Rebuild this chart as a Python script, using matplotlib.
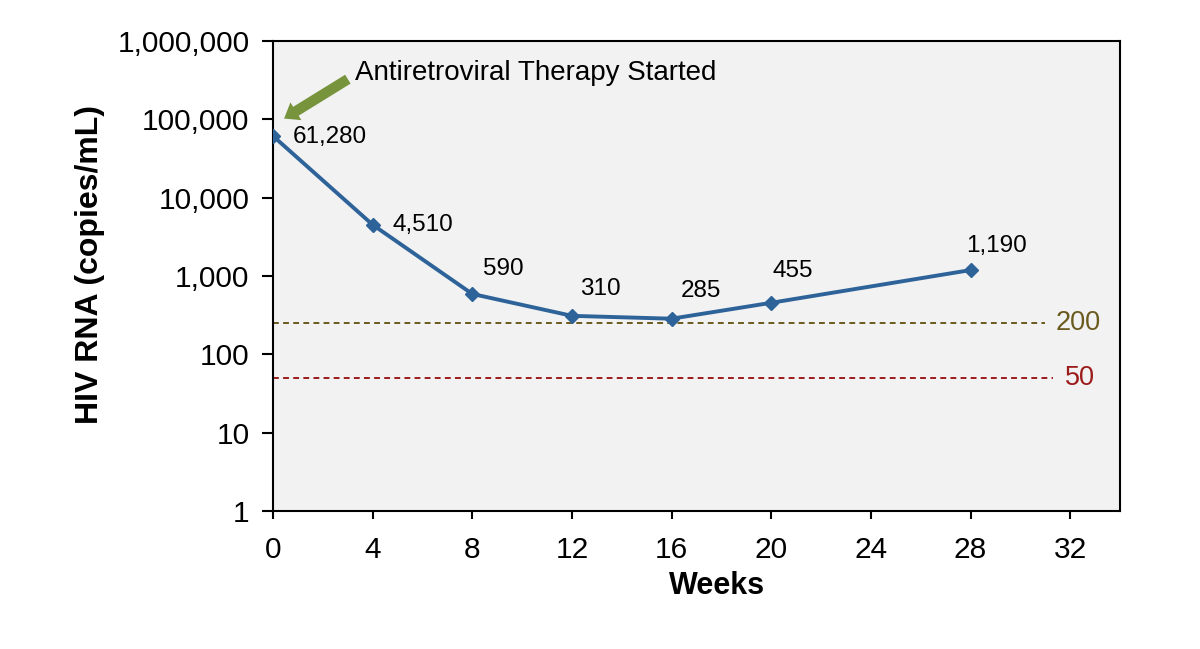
import matplotlib
matplotlib.use("Agg")
import matplotlib.pyplot as plt
from matplotlib.ticker import FixedLocator, NullLocator

# data
weeks = [0, 4, 8, 12, 16, 20, 28]
rna = [61280, 4510, 590, 310, 285, 455, 1190]
point_labels = ["61,280", "4,510", "590", "310", "285", "455", "1,190"]
y_ticks = [1, 10, 100, 1000, 10000, 100000, 1000000]
y_tick_labels = ["1", "10", "100", "1,000", "10,000", "100,000", "1,000,000"]
x_ticks = [0, 4, 8, 12, 16, 20, 24, 28, 32]
line_200 = 250   # drawn a bit above 200 in the original
line_50 = 50

plt.rcParams['font.family'] = ['Liberation Sans', 'DejaVu Sans']

fig = plt.figure(figsize=(12, 6.49), dpi=100)
ax = fig.add_axes([273/1200, 1 - 511/649, (1120-273)/1200, (511-41)/649])
ax.set_facecolor("#f2f2f2")

blue = "#2e6399"
ax.plot(weeks, rna, color=blue, lw=2.8, marker="D", ms=7, zorder=4)

# label offsets in points (dx, dy)
offsets = [(14, -1), (14, 0), (8, 18), (6, 19), (6.5, 20), (1, 23), (-3, 17)]
for x, y, t, (dx, dy) in zip(weeks, rna, point_labels, offsets):
    ax.annotate(t, (x, y), xytext=(dx, dy), textcoords="offset points",
                fontsize=17.5, ha="left", va="center")

ax.plot([0, 31], [line_200, line_200], ls=(0, (3, 2.2)), color="#6b5a1e", lw=1.4)
ax.plot([0, 31.3], [line_50, line_50], ls=(0, (3, 2.2)), color="#9c1c1c", lw=1.4)
ax.text(31.4, line_200, "200", color="#6b5a1e", fontsize=19.5, va="center", ha="left")
ax.text(31.8, line_50, "50", color="#9c1c1c", fontsize=19.5, va="center", ha="left")

ax.annotate("", xy=(0.35, 98000), xytext=(3.1, 340000),
            arrowprops=dict(arrowstyle="simple,head_length=1.0,head_width=1.5,tail_width=0.75",
                            color="#77933c", lw=0))
ax.text(3.3, 390000, "Antiretroviral Therapy Started", fontsize=20, va="center", ha="left")

ax.set_yscale("log")
ax.set_ylim(1, 1000000)
ax.set_xlim(0, 34)
ax.yaxis.set_major_locator(FixedLocator(y_ticks))
ax.yaxis.set_minor_locator(NullLocator())
ax.set_yticklabels(y_tick_labels)
ax.set_xticks(x_ticks)
ax.tick_params(axis="both", labelsize=21.5, width=1.5, direction="out")
ax.tick_params(axis="y", length=8, pad=9)
ax.tick_params(axis="x", length=6, pad=12)
for s in ax.spines.values():
    s.set_linewidth(1.5)

ax.set_xlabel("Weeks", fontsize=22, fontweight="bold")
ax.xaxis.set_label_coords(0.524, -0.128)
ax.set_ylabel("HIV RNA (copies/mL)", fontsize=23, fontweight="bold")
ax.yaxis.set_label_coords(-0.198, 0.525)

fig.savefig("out.png", dpi=100, facecolor="white")
